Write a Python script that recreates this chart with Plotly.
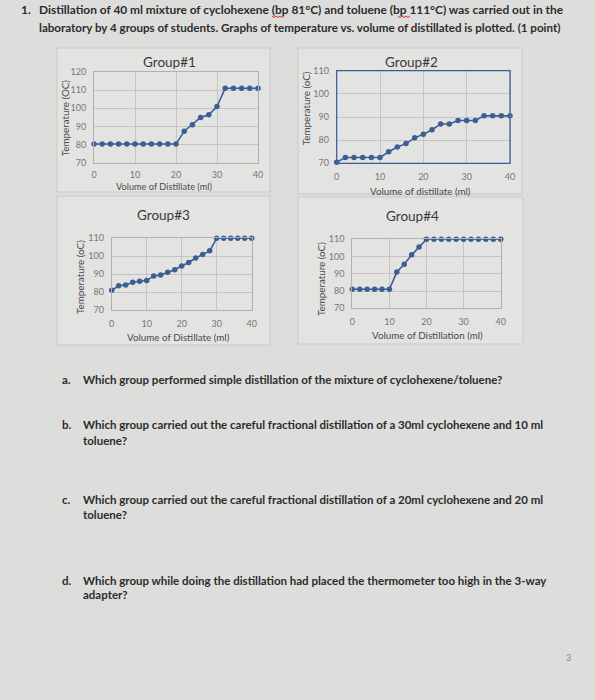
import plotly.graph_objects as go

# ---- data ----
g1_vol = [0, 2, 4, 6, 8, 10, 12, 14, 16, 18, 20, 22, 24, 26, 28, 30, 32, 34, 36, 38, 40]
g1_temp = [80.5, 80.5, 80.5, 80.5, 80.5, 80.5, 80.5, 80.5, 80.5, 80.5, 80.5,
           87.5, 91, 95, 96.5, 101, 111, 111, 111, 111, 111]

g2_vol = [0, 2, 4, 6, 8, 10, 12, 14, 16, 18, 20, 22, 24, 26, 28, 30, 32, 34, 36, 38, 40]
g2_temp = [70.5, 72.5, 72.5, 72.5, 72.5, 72.5, 75, 77, 78.5, 81, 82.5,
           84.5, 87, 87, 88.5, 88.5, 88.5, 90.5, 90.5, 90.5, 90.5]

g3_vol = [0, 2, 4, 6, 8, 10, 12, 14, 16, 18, 20, 22, 24, 26, 28, 30, 32, 34, 36, 38, 40]
g3_temp = [81, 83.5, 84, 85.5, 86, 86.5, 89, 89.5, 91, 92.5, 94.5,
           96.5, 99, 101, 103, 110, 110, 110, 110, 110, 110]

g4_vol = [0, 2, 4, 6, 8, 10, 12, 14, 16, 18, 20, 22, 24, 26, 28, 30, 32, 34, 36, 38, 40]
g4_temp = [81, 81, 81, 81, 81, 81, 91, 95.5, 101, 105.5, 110,
           110, 110, 110, 110, 110, 110, 110, 110, 110, 110]

group_names = ['Group#1', 'Group#2', 'Group#3', 'Group#4']
x_titles = ['Volume of Distillate (ml)', 'Volume of distillate (ml)',
            'Volume of Distillate (ml)', 'Volume of Distillation (ml)']
y_titles = ['Temperature (OC)', 'Temperature (oC)', 'Temperature (oC)', 'Temperature (oC)']
y_ranges = [[70, 120], [70, 110], [70, 110], [70, 110]]
x_ticks = [0, 10, 20, 30, 40]

header_1 = 'Distillation of 40 ml mixture of cyclohexene (bp 81°C) and toluene (bp 111°C) was carried out in the'
header_2 = 'laboratory by 4 groups of students. Graphs of temperature vs. volume of distillated is plotted. <b>(1 point)</b>'
questions = [
    ('a.', ['Which group performed simple distillation of the mixture of cyclohexene/toluene?']),
    ('b.', ['Which group carried out the careful fractional distillation of a 30ml cyclohexene and 10 ml', 'toluene?']),
    ('c.', ['Which group carried out the careful fractional distillation of a 20ml cyclohexene and 20 ml', 'toluene?']),
    ('d.', ['Which group while doing the distillation had placed the thermometer too high in the 3-way', 'adapter?']),
]

W, H = 595, 700
FONT = 'Lato'
BLUE = '#3d5e95'


def px(x):
    return x / W


def py(y):
    return 1 - y / H


# pixel geometry of each small chart (left, right, top, bottom of plot area)
plot_boxes = [(94, 258, 71.7, 163.3), (336.7, 510, 70.7, 163.3),
              (111.7, 251.7, 238.3, 310), (352.3, 500.7, 239.3, 308.3)]
chart_boxes = [(57, 270, 48, 192), (298, 522, 48, 194), (57, 270, 196, 345), (298, 523, 197, 344)]
title_pos = [(169, 62), (411.3, 62), (163.7, 215), (412, 216)]
xtitle_pos = [(164, 186.5), (420.7, 190.7), (178.3, 336.7), (427.3, 335)]
xtitle_size = [9.2, 9.8, 9.8, 9.8]
x_standoff = [3, 5, 5, 5]
ytitle_pos = [(65, 118.3), (306, 108.3), (80.7, 277.3), (321.7, 279.3)]

series = [(g1_vol, g1_temp), (g2_vol, g2_temp), (g3_vol, g3_temp), (g4_vol, g4_temp)]

fig = go.Figure()
layout = dict(
    width=W, height=H,
    margin=dict(l=0, r=0, t=0, b=0, autoexpand=False),
    paper_bgcolor='#dddddb',
    plot_bgcolor='rgba(0,0,0,0)',
    showlegend=False,
    font=dict(family=FONT, color='#333'),
)
shapes = []
annotations = []


def note(x, y, text, size, color='#2c2c2c', xanchor='center', angle=0):
    annotations.append(dict(x=px(x), y=py(y), xref='paper', yref='paper', showarrow=False,
                            xanchor=xanchor, yanchor='middle', text=text, textangle=angle,
                            font=dict(family=FONT, size=size, color=color)))


for i, (vol, temp) in enumerate(series):
    n = '' if i == 0 else str(i + 1)
    fig.add_trace(go.Scatter(x=vol, y=temp, mode='lines+markers',
                             line=dict(color=BLUE, width=1.6),
                             marker=dict(color=BLUE, size=5.5),
                             cliponaxis=False,
                             xaxis='x' + n, yaxis='y' + n))
    l, r, t, b = plot_boxes[i]
    axis_common = dict(showgrid=True, gridcolor='#c4c4c4', gridwidth=1,
                       zeroline=False, showline=True, linecolor='#b0b0b0',
                       mirror=True, ticks='', fixedrange=True, automargin=False,
                       tickfont=dict(family=FONT, size=9, color='#777'))
    layout['xaxis' + n] = dict(axis_common, domain=[px(l), px(r)], range=[0, 40],
                               tickvals=x_ticks, anchor='y' + n, ticklabelstandoff=x_standoff[i])
    layout['yaxis' + n] = dict(axis_common, domain=[py(b), py(t)], range=y_ranges[i],
                               dtick=10, anchor='x' + n, ticklabelstandoff=5)

    cl, cr, ct, cb = chart_boxes[i]
    shapes.append(dict(type='rect', xref='paper', yref='paper', layer='below',
                       x0=px(cl), x1=px(cr), y0=py(cb), y1=py(ct),
                       fillcolor='#e3e3e1', line=dict(color='#c9c9c8', width=1)))

    note(*title_pos[i], group_names[i], 13.5, '#3a3a3a')
    note(*xtitle_pos[i], x_titles[i], xtitle_size[i], '#4a4a4a')
    note(*ytitle_pos[i], y_titles[i], 9.8, '#4a4a4a', angle=-90)

# blue frame around Group#2 plot area (chart was selected in the photo)
l, r, t, b = plot_boxes[1]
shapes.append(dict(type='rect', xref='paper', yref='paper', x0=px(l), x1=px(r), y0=py(b), y1=py(t),
                   line=dict(color='#3b5a9a', width=1.2)))

# header text
note(19, 9, '<b>1.</b>', 11.9, xanchor='left')
note(37, 9, '<b>' + header_1 + '</b>', 11.9, xanchor='left')
note(37, 27, '<b>' + header_2 + '</b>', 11.6, xanchor='left')

# red spell-check squiggles under "bp"
for x0 in [272, 398]:
    path = 'M {} {}'.format(px(x0), py(16))
    for k in range(1, 7):
        path += ' L {} {}'.format(px(x0 + k * 2), py(16 + (1.5 if k % 2 else 0)))
    shapes.append(dict(type='path', xref='paper', yref='paper', path=path,
                       line=dict(color='#d23030', width=1)))

# questions
q_rows = [[380], [425, 440], [499, 514], [580, 594]]
for (label, lines), rows in zip(questions, q_rows):
    note(60, rows[0], '<b>' + label + '</b>', 11.5, xanchor='left')
    for line, yy in zip(lines, rows):
        note(81, yy, '<b>' + line + '</b>', 11.5, xanchor='left')

note(568, 657, '3', 9, '#888')

layout['shapes'] = shapes
layout['annotations'] = annotations
fig.update_layout(**layout)

# drop the default 8px page margin so the figure sits at the window corner
fig.write_html('out.html', config={'displayModeBar': False},
               post_script="document.body.style.margin='0';")
